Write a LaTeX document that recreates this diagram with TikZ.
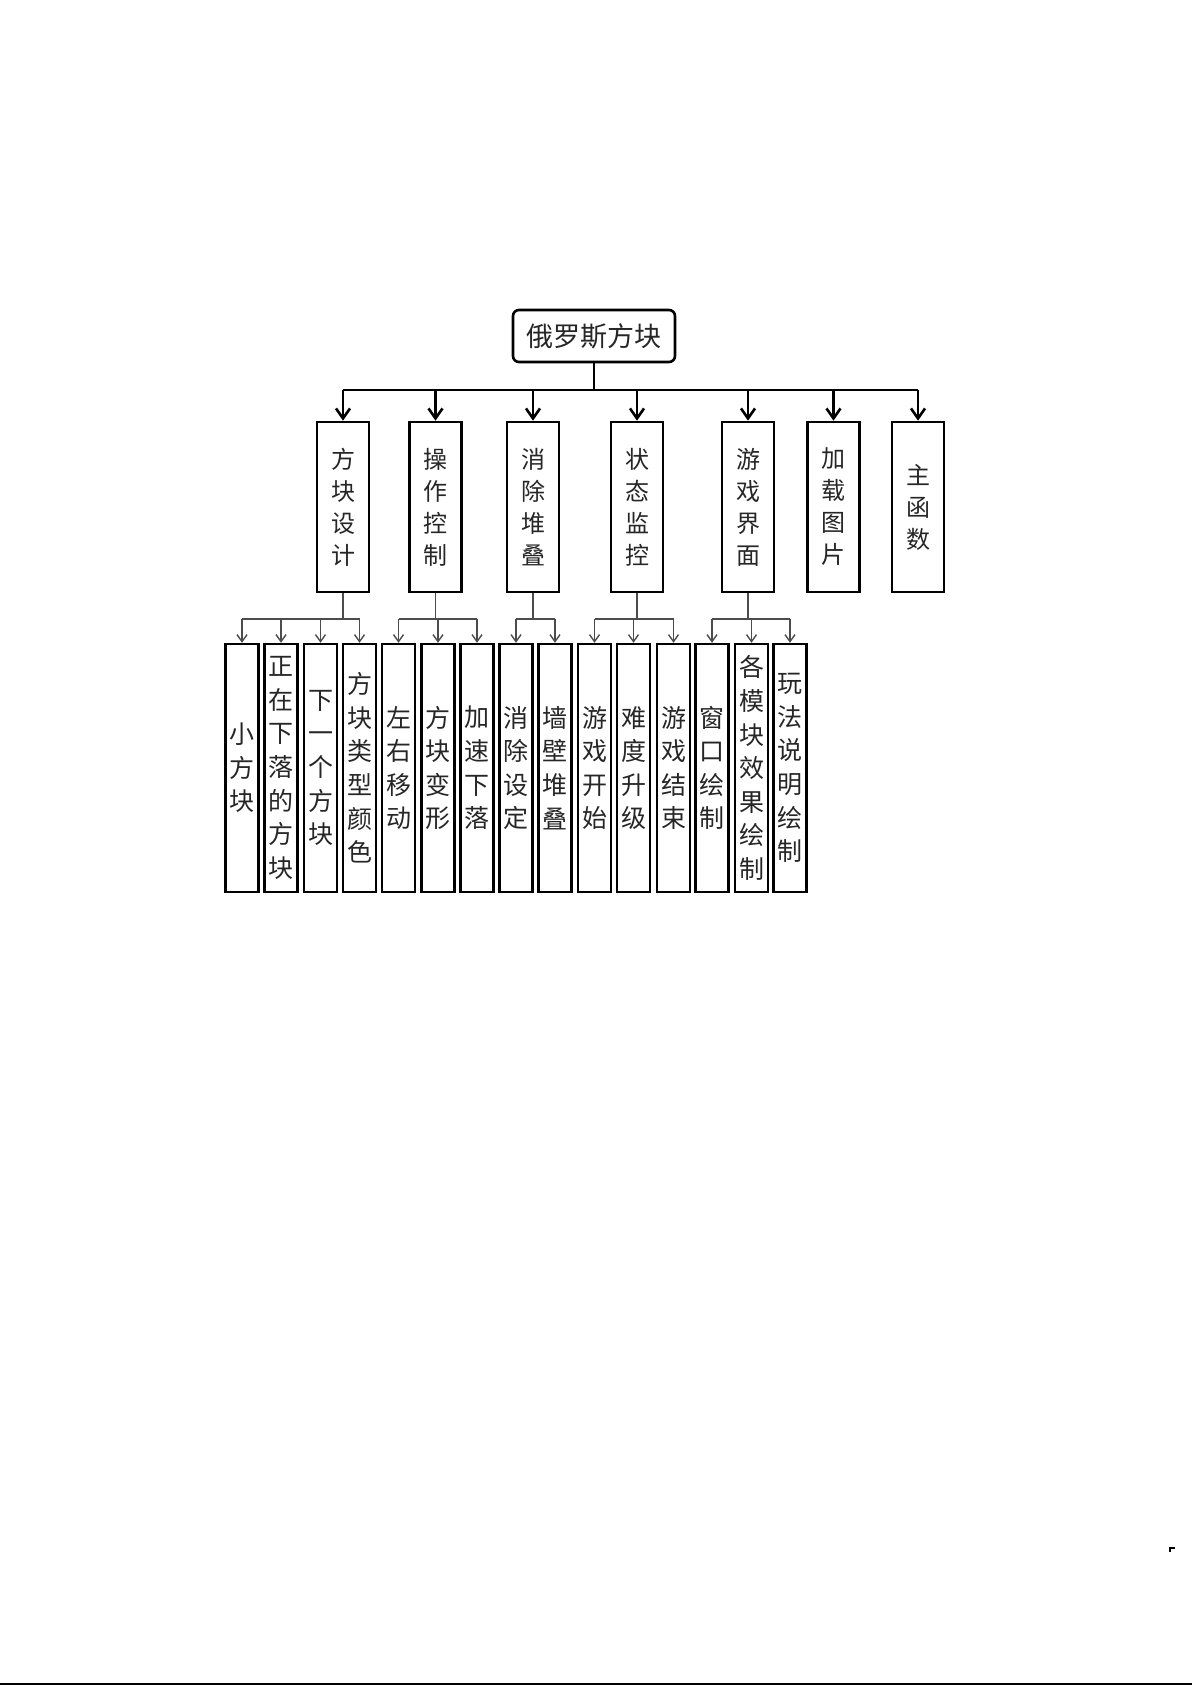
\documentclass[tikz,border=0pt]{standalone}
\usepackage{fontspec}
\newfontfamily\cjk{Noto Sans CJK SC}
\usetikzlibrary{arrows.meta}

\begin{document}
\begin{tikzpicture}[x=0.5pt, y=-0.5pt,
        kasten/.style={draw, line width=1.3pt, inner sep=0pt, align=center, text=black!85},
        modul/.style={kasten, minimum width=26pt, minimum height=85pt, font=\cjk\fontsize{12}{16}\selectfont},
        blatt/.style={kasten, line width=1.2pt, minimum width=16.5pt, minimum height=124pt, font=\cjk\fontsize{12.5}{16.8}\selectfont},
        pfeil/.style={line width=1.3pt, -{Straight Barb[length=5pt,width=7pt,line width=1.3pt]}},
        linie/.style={line width=0.7pt, draw=black!70},
        zweig/.style={linie, -{Straight Barb[length=3.5pt,width=5pt,line width=0.7pt]}}]

    \useasboundingbox (0,0) rectangle (1192,1685);

    % Wurzel
    \node[kasten, rounded corners=3pt, minimum width=81pt, minimum height=26pt, font=\cjk\fontsize{13.5}{15}\selectfont] (wurzel) at (594,336) {俄罗斯方块};

    % Module
    \node[modul] (m1) at (343,507) {方\\块\\设\\计};
    \node[modul] (m2) at (435.5,507) {操\\作\\控\\制};
    \node[modul] (m3) at (533,507) {消\\除\\堆\\叠};
    \node[modul] (m4) at (637,507) {状\\态\\监\\控};
    \node[modul] (m5) at (748,507) {游\\戏\\界\\面};
    \node[modul] (m6) at (833.5,507) {加\\载\\图\\片};
    \node[modul] (m7) at (918,507) {主\\函\\数};

    % Unterpunkte
    \node[blatt] (l1) at (242,768) {小\\方\\块};
    \node[blatt] (l2) at (281,768) {正\\在\\下\\落\\的\\方\\块};
    \node[blatt] (l3) at (320.5,768) {下\\一\\个\\方\\块};
    \node[blatt] (l4) at (359.5,768) {方\\块\\类\\型\\颜\\色};
    \node[blatt] (l5) at (398.5,768) {左\\右\\移\\动};
    \node[blatt] (l6) at (438,768) {方\\块\\变\\形};
    \node[blatt] (l7) at (477,768) {加\\速\\下\\落};
    \node[blatt] (l8) at (516,768) {消\\除\\设\\定};
    \node[blatt] (l9) at (555,768) {墙\\壁\\堆\\叠};
    \node[blatt] (l10) at (594.5,768) {游\\戏\\开\\始};
    \node[blatt] (l11) at (633.5,768) {难\\度\\升\\级};
    \node[blatt] (l12) at (673.5,768) {游\\戏\\结\\束};
    \node[blatt] (l13) at (712,768) {窗\\口\\绘\\制};
    \node[blatt] (l14) at (751.5,768) {各\\模\\块\\效\\果\\绘\\制};
    \node[blatt] (l15) at (790,768) {玩\\法\\说\\明\\绘\\制};

    % Hauptpfeile
    \coordinate (bus) at (594,390);
    \draw[line width=1.3pt] (wurzel.south) -- (bus);
    \draw[line width=1.3pt] (m1.north |- bus) -- (m7.north |- bus);
    \foreach \m in {m1,m2,m3,m4,m5,m6,m7}
        \draw[pfeil] (\m.north |- bus) -- (\m.north);

    % Zweige
    \coordinate (ast) at (0,619);
    \draw[linie] (m1.south) -- (m1.south |- ast);
    \draw[linie] (l1.north |- ast) -- (l4.north |- ast);
    \draw[linie] (m2.south) -- (m2.south |- ast);
    \draw[linie] (l5.north |- ast) -- (l7.north |- ast);
    \draw[linie] (m3.south) -- (m3.south |- ast);
    \draw[linie] (l8.north |- ast) -- (l9.north |- ast);
    \draw[linie] (m4.south) -- (m4.south |- ast);
    \draw[linie] (l10.north |- ast) -- (l12.north |- ast);
    \draw[linie] (m5.south) -- (m5.south |- ast);
    \draw[linie] (l13.north |- ast) -- (l15.north |- ast);
    \foreach \l in {l1,l2,l3,l4,l5,l6,l7,l8,l9,l10,l11,l12,l13,l14,l15}
        \draw[zweig] (\l.north |- ast) -- (\l.north);

    % Rand
    \draw[line width=1pt] (0,1684) -- (1192,1684);
    \draw[line width=1pt] (1170,1552) -- (1170,1548) -- (1175,1548);
\end{tikzpicture}
\end{document}
